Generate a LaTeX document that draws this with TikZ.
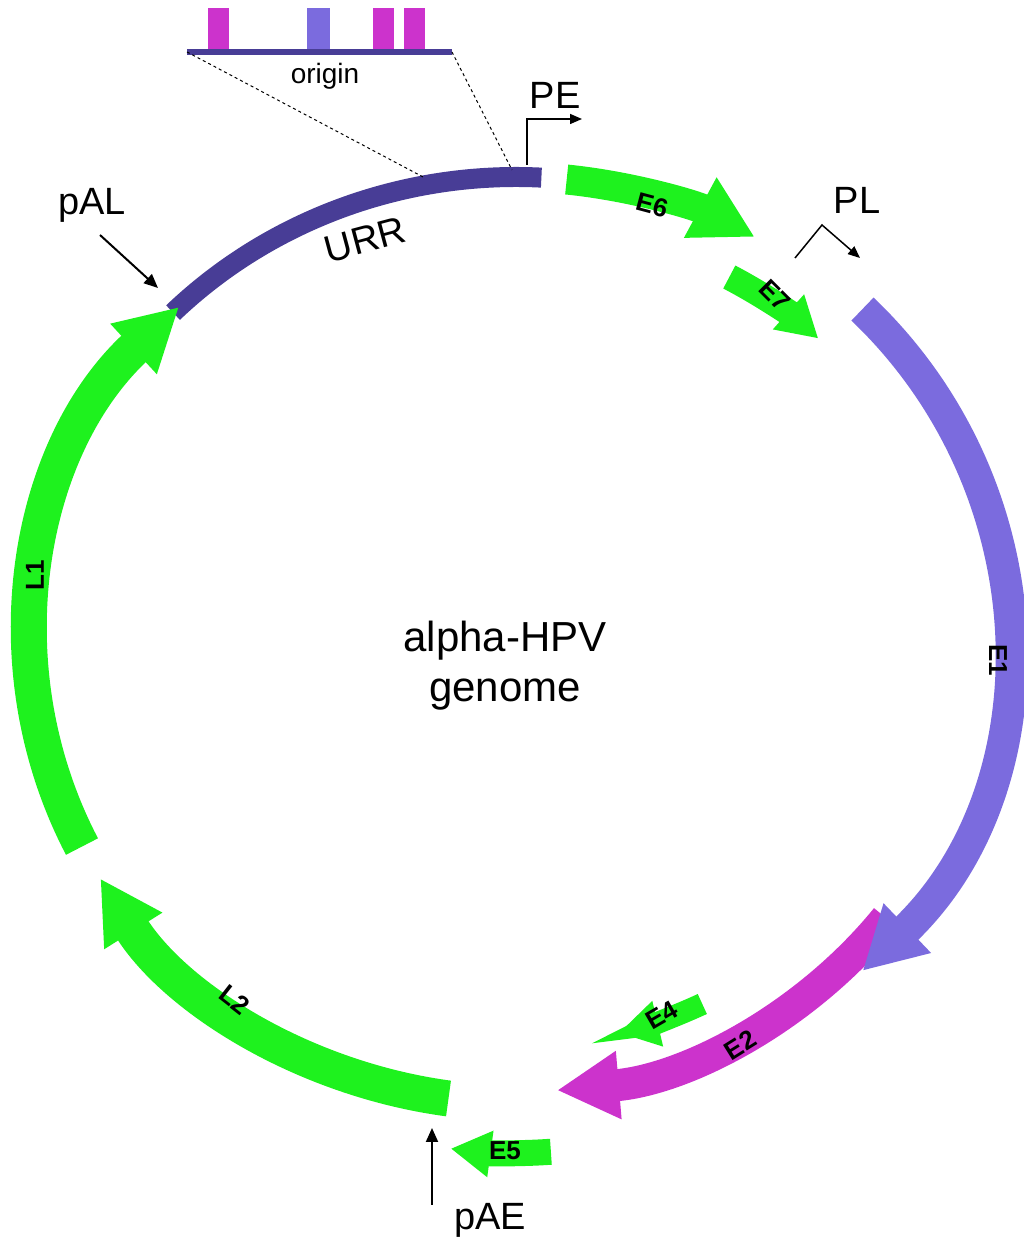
\documentclass[tikz,border=0pt]{standalone}
\usepackage{fontspec}
\setmainfont{Liberation Sans}
\usetikzlibrary{arrows.meta}
\definecolor{urr}{HTML}{483D96}
\definecolor{eone}{HTML}{7B6BDE}
\definecolor{gr}{HTML}{1EF21E}
\definecolor{mg}{HTML}{CC33CC}
\begin{document}
\begin{tikzpicture}[x=1pt,y=1pt,
 gene/.style={line width=#1,line cap=butt},
 lab/.style={font=\fontsize{26}{26}\selectfont\bfseries,inner sep=0pt},
 big/.style={font=\fontsize{38}{38}\selectfont,inner sep=0pt},
 tip/.style={-{Triangle[length=62pt,width=64pt]}},
 sm/.style={-{Triangle[length=40pt,width=44pt]}}]
\useasboundingbox (0,0) rectangle (1024,1251);
\coordinate (C) at (516,611);
% URR
\draw[gene=20pt,urr] ([shift={(135:485 and 463)}]C) coordinate (u1) arc[start angle=135,end angle=87,x radius=485,y radius=463] coordinate (u2);
% E6
\draw[gene=30pt,gr,tip] ([shift={(84:485 and 463)}]C) arc[start angle=84,end angle=60.5,x radius=485,y radius=463];
% E7
\draw[gene=26pt,gr,sm] ([shift={(61:440 and 415)}]C) arc[start angle=61,end angle=46.6,x radius=440,y radius=415];
% E2
\draw[gene=32pt,mg,tip] ([shift={(-38:470 and 452)}]C) arc[start angle=-38,end angle=-85,x radius=470,y radius=452];
% E1
\draw[gene=32pt,eone,tip] ([shift={(45:490 and 468)}]C) arc[start angle=45,end angle=-45,x radius=490,y radius=468];
% E4
\draw[gene=22pt,gr,sm] ([shift={(-64:425 and 405)}]C) arc[start angle=-64,end angle=-76,x radius=425,y radius=405];
% E5
\draw[gene=26pt,gr,sm] ([shift={(-86:500 and 513)}]C) arc[start angle=-86,end angle=-97.5,x radius=500,y radius=513];
% L2
\draw[gene=36pt,gr,tip] ([shift={(-98:485 and 463)}]C) arc[start angle=-98,end angle=-149,x radius=485,y radius=463];
% L1
\draw[gene=36pt,gr,tip] ([shift={(206.5:485 and 463)}]C) arc[start angle=206.5,end angle=134,x radius=485,y radius=463];
% labels
\node[lab,rotate=-15] (l6) at (652,1046) {E6};
\node[lab,rotate=-45] (l7) at (775,956) {E7};
\node[lab,rotate=-90] (l1e) at (998,591) {E1};
\node[lab,rotate=32] (l2e) at (740,206) {E2};
\node[lab,rotate=30] (l4) at (662,236) {E4};
\node[lab] (l5) at (505,100) {E5};
\node[lab,rotate=-38] (ll2) at (235,251) {L2};
\node[lab,rotate=90] (ll1) at (35,676) {L1};
\node[big,rotate=15] (urrl) at (365,1011) {URR};
\node[align=center,font=\fontsize{42}{50}\selectfont] (g) at (505,585) {alpha-HPV\\genome};
% pAL
\node[big] (pal) at (92,1046) {pAL};
\draw[line width=2pt,-{Triangle[length=14pt,width=12pt]}] (100,1016) -- (158,963);
% pAE
\node[big] (pae) at (490,31) {pAE};
\draw[line width=2pt,-{Triangle[length=14pt,width=12pt]}] (432,46) -- (432,123);
% PE
\node[big] (pe) at (555,1156) {PE};
\draw[line width=1.5pt,-{Triangle[length=12pt,width=10pt]}] (527,1086) -- (527,1132) -- (582,1132);
% PL
\node[big] (pl) at (857,1051) {PL};
\draw[line width=1.5pt,-{Triangle[length=12pt,width=10pt]}] (795,993) -- (822,1026) -- (860,993);
% origin
\draw[urr,line width=6pt] (187,1199) coordinate (o1) -- (452,1199) coordinate (o2);
\fill[mg] (208,1202) rectangle (229,1243);
\fill[eone] (307,1202) rectangle (330,1243);
\fill[mg] (373,1202) rectangle (394,1243);
\fill[mg] (404,1202) rectangle (425,1243);
\node[font=\fontsize{28}{28}\selectfont] (og) at (325,1175) {origin};
\draw[dashed,line width=1pt] (o1) -- (425,1073);
\draw[dashed,line width=1pt] (o2) -- (512,1081);
\end{tikzpicture}
\end{document}
